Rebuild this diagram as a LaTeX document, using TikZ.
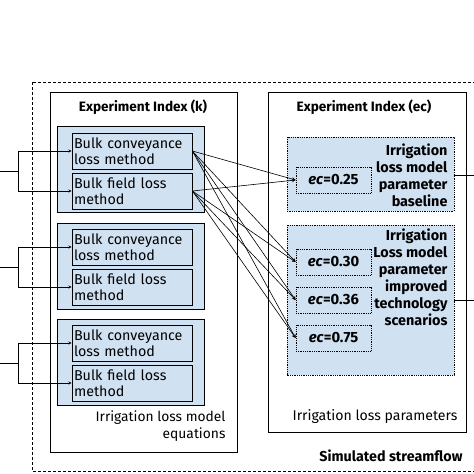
\documentclass[tikz,border=0pt]{standalone}
\usepackage{fontspec}
\setmainfont{Fira Sans}
\usepackage{tikz}
\definecolor{paleblue}{RGB}{208,225,242}
\newcommand{\ec}[1]{\textbf{\textit{ec}=#1}}

\begin{document}
\begin{tikzpicture}[x=1pt, y=-1pt,>=stealth,
    method/.style={draw, fill=paleblue, thick, minimum width=120, minimum height=36,
      text width=116, align=left, inner sep=2, font=\fontsize{14.3}{16}\selectfont},
    group/.style={draw, fill=paleblue, thick, minimum width=147, minimum height=86},
    valbox/.style={draw, densely dotted, thick, minimum width=75, minimum height=26,
      font=\fontsize{14.8}{15}\selectfont},
    scen/.style={draw, densely dotted, thick, fill=paleblue},
    caption/.style={align=right, font=\fontsize{14.4}{17}\selectfont\bfseries}]
    \useasboundingbox (0,0) rectangle (474,474);
    \clip (0,0) rectangle (474,474);
    % outer frame
    \draw [thick, dash pattern=on 3pt off 2pt] (32,82) rectangle (490,471);
    \node [anchor=east, font=\fontsize{14.3}{16}\selectfont\bfseries] at (466,456) (flow) {Simulated streamflow};

    % experiment index k
    \draw [thick] (50,92) rectangle (237,452);
    \node [font=\fontsize{13.6}{15}\selectfont\bfseries] at (143,107) (idxk) {Experiment Index (k)};
    \node [group] at (130.5,169.5) (grp1) {};
    \node [group] at (130.5,266) (grp2) {};
    \node [group] at (130.5,362.5) (grp3) {};
    \node [method] at (132,151) (conv1) {Bulk conveyance loss method};
    \node [method] at (132,191) (field1) {Bulk field loss method};
    \node [method] at (132,247) (conv2) {Bulk conveyance loss method};
    \node [method] at (132,287) (field2) {Bulk field loss method};
    \node [method] at (132,343) (conv3) {Bulk conveyance loss method};
    \node [method] at (132,383) (field3) {Bulk field loss method};
    \node [anchor=east, align=right, font=\fontsize{13.8}{17}\selectfont] at (229,426.5) (eqn)
    {Irrigation loss model\\equations};

    % inputs
    \coordinate (in1) at (0,171);
    \coordinate (in2) at (0,267);
    \coordinate (in3) at (0,363);
    \draw [thick] (in1) -- ++(18,0) coordinate (br1);
    \draw [thick] (in2) -- ++(18,0) coordinate (br2);
    \draw [thick] (in3) -- ++(18,0) coordinate (br3);
    \draw [->] (br1) |- (conv1);
    \draw [->] (br1) |- (field1);
    \draw [->] (br2) |- (conv2);
    \draw [->] (br2) |- (field2);
    \draw [->] (br3) |- (conv3);
    \draw [->] (br3) |- (field3);

    % experiment index ec
    \draw [thick] (268,92) rectangle (466,432);
    \node [font=\fontsize{13.6}{15}\selectfont\bfseries] at (364,107) (idxec) {Experiment Index (ec)};
    \draw [scen] (287,137) rectangle (454,211);
    \draw [scen] (287,225) rectangle (454,375);
    \coordinate (base) at (454,175);
    \coordinate (impr) at (454,300);
    \node [caption, anchor=east] at (451,175) (basetxt)
    {Irrigation\\loss model\\parameter\\baseline};
    \node [caption, anchor=east] at (451,277) (imprtxt)
    {Irrigation\\Loss model\\parameter\\improved\\technology\\scenarios};
    \node [valbox] at (333.5,180) (ec1) {\ec{0.25}};
    \node [valbox] at (333.5,262) (ec2) {\ec{0.30}};
    \node [valbox] at (333.5,300) (ec3) {\ec{0.36}};
    \node [valbox] at (333.5,338) (ec4) {\ec{0.75}};
    \node [font=\fontsize{14.1}{15}\selectfont] at (375,416) (params) {Irrigation loss parameters};

    % outputs
    \coordinate (out1) at (474,175);
    \coordinate (out2) at (474,300);
    \draw [thick] (base) -- (out1);
    \draw [thick] (impr) -- (out2);

    % links
    \foreach \m in {conv1,field1}
      \foreach \e in {ec1,ec2,ec3,ec4}
        \draw [->, semithick] (\m.east) -- (\e.west);
  \end{tikzpicture}
\end{document}
